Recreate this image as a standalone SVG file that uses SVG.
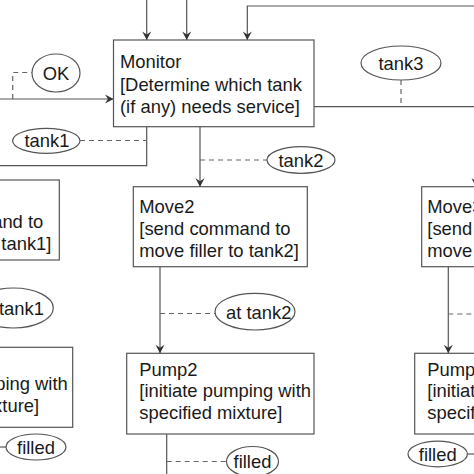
<svg xmlns="http://www.w3.org/2000/svg" width="474" height="474" viewBox="0 0 474 474">
<defs>
<marker id="arr" viewBox="-9 -5 10 10" refX="0" refY="0" markerWidth="10" markerHeight="10" markerUnits="userSpaceOnUse" orient="auto">
<path d="M-8.5,-4.5 L0,0 L-8.5,4.5 L-5.5,0 Z" fill="#333"/>
</marker>
<style>
.box{fill:#fff;stroke:#555;stroke-width:1.2}
.ell{fill:#fff;stroke:#555;stroke-width:1.2}
.t{font-family:"Liberation Sans",Arial,sans-serif;font-size:18.4px;fill:#1a1a1a}
.ln{fill:none;stroke:#555;stroke-width:1.2}
.ar{fill:none;stroke:#555;stroke-width:1.2;marker-end:url(#arr)}
.dl{fill:none;stroke:#666;stroke-width:1.2;stroke-dasharray:5,4}
</style>
</defs>
<rect width="474" height="474" fill="#fff"/>
<g id="connectors">
<path class="ar" d="M146.7,0 V40"/>
<path class="ar" d="M186.7,0 V40"/>
<path class="ar" d="M474,6 H247.3 V40"/>
<path class="ar" d="M0,99 H113.5"/>
<path class="dl" d="M12.7,99 V72.5 H32"/>
<path class="ln" d="M146.7,126.7 V165.7 H0"/>
<path class="dl" d="M80,140.5 H146.7"/>
<path class="ar" d="M200,126.7 V186.7"/>
<path class="dl" d="M200,160 H267"/>
<path class="ln" d="M314,106.7 H474"/>
<path class="dl" d="M401,80 V106.7"/>
<path class="ar" d="M476,150 V186.7"/>
<path class="ar" d="M160,266.7 V353.3"/>
<path class="dl" d="M160,313.5 H215"/>
<path class="ln" d="M166.7,434 V474"/>
<path class="dl" d="M166.7,461.5 H226.5"/>
<path class="ar" d="M448.3,266.7 V353.3"/>
<path class="dl" d="M448.3,314 H474"/>
<path class="ln" d="M467.4,454 H474"/>
<path class="ln" d="M0,447 H6"/>
</g>
<g id="monitor">
<rect class="box" x="113.5" y="40" width="200.5" height="86.7"/>
<text class="t" x="120" y="68.3">Monitor</text>
<text class="t" x="120" y="90.7">[Determine which tank</text>
<text class="t" x="120" y="113.3">(if any) needs service]</text>
</g>
<g id="ok"><ellipse class="ell" cx="56" cy="73" rx="24" ry="19"/><text class="t" x="56" y="79.5" text-anchor="middle">OK</text></g>
<g id="tank1"><ellipse class="ell" cx="46.3" cy="140.8" rx="33.7" ry="12.5"/><text class="t" x="47" y="147.3" text-anchor="middle">tank1</text></g>
<g id="tank2"><ellipse class="ell" cx="301" cy="160" rx="34" ry="13.3"/><text class="t" x="301" y="166.5" text-anchor="middle">tank2</text></g>
<g id="tank3"><ellipse class="ell" cx="401" cy="63" rx="40" ry="17"/><text class="t" x="401" y="69.5" text-anchor="middle">tank3</text></g>
<g id="move1">
<rect class="box" x="-114.7" y="180" width="174" height="80"/>
<text class="t" x="-108" y="206.7">Move1</text>
<text class="t" x="-108" y="228.3">[send command to</text>
<text class="t" x="-108" y="250">move filler to tank1]</text>
</g>
<g id="move2">
<rect class="box" x="133.3" y="186.7" width="174" height="80"/>
<text class="t" x="139.3" y="213.3">Move2</text>
<text class="t" x="139.3" y="235">[send command to</text>
<text class="t" x="139.3" y="256.7">move filler to tank2]</text>
</g>
<g id="move3">
<rect class="box" x="421.7" y="186.7" width="174" height="80"/>
<text class="t" x="427.3" y="213.3">Move3</text>
<text class="t" x="427.3" y="235">[send command to</text>
<text class="t" x="427.3" y="256.7">move filler to tank3]</text>
</g>
<g id="attank1"><ellipse class="ell" cx="13.3" cy="308" rx="40" ry="20"/><text class="t" x="44" y="314.5" text-anchor="end">at tank1</text></g>
<g id="attank2"><ellipse class="ell" cx="255" cy="311.7" rx="40" ry="18.3"/><text class="t" x="226" y="318.5">at tank2</text></g>
<g id="pump1">
<rect class="box" x="-114.6" y="347.3" width="187.3" height="80"/>
<text class="t" x="-104" y="368">Pump1</text>
<text class="t" x="-104" y="390">[initiate pumping with</text>
<text class="t" x="-104" y="412">specified mixture]</text>
</g>
<g id="pump2">
<rect class="box" x="126.7" y="353.3" width="187.3" height="80.7"/>
<text class="t" x="139.3" y="375.5">Pump2</text>
<text class="t" x="139.3" y="397.3">[initiate pumping with</text>
<text class="t" x="139.3" y="419.3">specified mixture]</text>
</g>
<g id="pump3">
<rect class="box" x="414.7" y="353.3" width="187.3" height="80.7"/>
<text class="t" x="427.3" y="375.5">Pump3</text>
<text class="t" x="427.3" y="397.3">[initiate pumping with</text>
<text class="t" x="427.3" y="419.3">specified mixture]</text>
</g>
<g id="filled1"><ellipse class="ell" cx="36" cy="447" rx="30" ry="13"/><text class="t" x="36" y="453.5" text-anchor="middle">filled</text></g>
<g id="filled2"><ellipse class="ell" cx="252.5" cy="461.5" rx="26" ry="15"/><text class="t" x="252.5" y="468" text-anchor="middle">filled</text></g>
<g id="filled3"><ellipse class="ell" cx="437.7" cy="454" rx="29.7" ry="12.8"/><text class="t" x="437.7" y="460.5" text-anchor="middle">filled</text></g>
</svg>
